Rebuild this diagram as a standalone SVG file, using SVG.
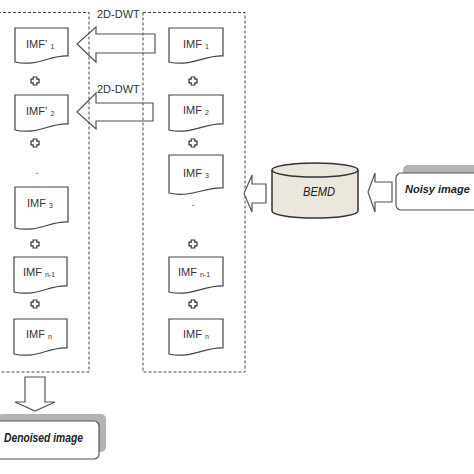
<svg xmlns="http://www.w3.org/2000/svg" xmlns:xlink="http://www.w3.org/1999/xlink" width="474" height="474" viewBox="0 0 474 474">
<style>
.box{fill:none;stroke:#444;stroke-width:1;stroke-dasharray:3 2}
.doc{fill:#fff;stroke:#444;stroke-width:1.2}
.t{font-family:"Liberation Sans",Arial,sans-serif;font-size:11px;fill:#333}
.sub{font-size:7px}
.arr{fill:none;stroke:#555;stroke-width:1.2}
.arrw{fill:#fff;stroke:#555;stroke-width:1.2}
.plus{fill:#fff;stroke:#333;stroke-width:1.2}
.lbl{font-family:"Liberation Sans",Arial,sans-serif;font-size:12px;font-style:italic;font-weight:bold;fill:#222}
</style>
<defs>
<polygon id="plus" points="-1.8,-4 1.8,-4 1.8,-1.8 4,-1.8 4,1.8 1.8,1.8 1.8,4 -1.8,4 -1.8,1.8 -4,1.8 -4,-1.8 -1.8,-1.8"/>
</defs>
<rect width="474" height="474" fill="#fff"/>
<g id="groups">
<rect class="box" x="-2" y="12.5" width="91" height="359.5"/>
<rect class="box" x="143" y="12.5" width="102" height="359.5"/>
</g>
<g id="connectors">
<path class="arr" d="M155,34 H96 V27 L77,44 L96,62 V53 H155 Z"/>
<path class="arr" d="M153,103 H96 V93 L77,112 L96,129 V121 H153 Z"/>
<path class="arrw" d="M266,184 H252 V175 L244,193.5 L252,212 V203 H266 Z"/>
<path class="arrw" d="M392,182 H375 V173 L368,192 L375,212 V202 H392 Z"/>
<path class="arrw" d="M25,377 H45 V402 H55 L35,411 L15,402 H25 Z"/>
<text class="t" x="97" y="18">2D-DWT</text>
<text class="t" x="97" y="93">2D-DWT</text>
<g class="plus">
<use xlink:href="#plus" x="35" y="81"/>
<use xlink:href="#plus" x="35" y="143"/>
<use xlink:href="#plus" x="35" y="244"/>
<use xlink:href="#plus" x="35" y="304"/>
<use xlink:href="#plus" x="193" y="81"/>
<use xlink:href="#plus" x="193" y="143"/>
<use xlink:href="#plus" x="193" y="244"/>
<use xlink:href="#plus" x="193" y="304"/>
</g>
<text class="t" x="37" y="174" text-anchor="middle">.</text>
<text class="t" x="193" y="206" text-anchor="middle">.</text>
</g>
<g id="imfp1"><path class="doc" d="M15,28 H68 V56 C50,55 37,67 15,62 Z"/><text class="t" x="26" y="48">IMF’<tspan class="sub" dx="3" dy="1">1</tspan></text></g>
<g id="imfp2"><path class="doc" d="M15,95 H68 V124 C50,123 37,135 15,130 Z"/><text class="t" x="26" y="115">IMF’<tspan class="sub" dx="3" dy="1">2</tspan></text></g>
<g id="imfl3"><path class="doc" d="M15,187 H68 V222 C50,221 37,233 15,228 Z"/><text class="t" x="27" y="207">IMF<tspan class="sub" dx="3" dy="1">3</tspan></text></g>
<g id="imfln1"><path class="doc" d="M14,257 H67 V286 C49,285 36,297 14,292 Z"/><text class="t" x="23" y="276">IMF<tspan class="sub" dx="3" dy="1">n-1</tspan></text></g>
<g id="imfln"><path class="doc" d="M14,319 H67 V348 C49,347 36,359 14,354 Z"/><text class="t" x="26" y="338">IMF<tspan class="sub" dx="3" dy="1">n</tspan></text></g>
<g id="imf1"><path class="doc" d="M169,28 H223 V56 C205,55 191,67 169,62 Z"/><text class="t" x="183" y="48">IMF<tspan class="sub" dx="3" dy="1">1</tspan></text></g>
<g id="imf2"><path class="doc" d="M169,95 H223 V124 C205,123 191,135 169,130 Z"/><text class="t" x="183" y="114">IMF<tspan class="sub" dx="3" dy="1">2</tspan></text></g>
<g id="imf3"><path class="doc" d="M169,155 H223 V188 C205,187 191,198 169,193 Z"/><text class="t" x="183" y="177">IMF<tspan class="sub" dx="3" dy="1">3</tspan></text></g>
<g id="imfn1"><path class="doc" d="M169,257 H223 V286 C205,285 191,297 169,292 Z"/><text class="t" x="178" y="276">IMF<tspan class="sub" dx="3" dy="1">n-1</tspan></text></g>
<g id="imfn"><path class="doc" d="M169,319 H223 V348 C205,347 191,359 169,354 Z"/><text class="t" x="183" y="338">IMF<tspan class="sub" dx="3" dy="1">n</tspan></text></g>
<g id="bemd">
<path d="M272,170 V211 A43,7 0 0 0 358,211 V170" fill="#ebe7dc" stroke="#333" stroke-width="1.5"/>
<ellipse cx="315" cy="170" rx="43" ry="7" fill="#ebe7dc" stroke="#333" stroke-width="1.5"/>
<text x="303" y="196" font-family="'Liberation Sans',Arial,sans-serif" font-size="12" font-style="italic" fill="#222" textLength="32" lengthAdjust="spacingAndGlyphs">BEMD</text>
</g>
<g id="noisy">
<rect x="403" y="165" width="90" height="38" rx="5" fill="#b3b3b3"/>
<rect x="396" y="173" width="90" height="37" rx="5" fill="#fff" stroke="#555" stroke-width="1.2"/>
<text class="lbl" x="405" y="193" style="font-size:11px">Noisy image</text>
</g>
<g id="denoised">
<rect x="-3" y="414" width="109" height="38" rx="5" fill="#b3b3b3"/>
<rect x="-10" y="421" width="109" height="38" rx="5" fill="#fff" stroke="#555" stroke-width="1.2"/>
<text class="lbl" x="4" y="442" textLength="79" lengthAdjust="spacingAndGlyphs">Denoised image</text>
</g>
</svg>
